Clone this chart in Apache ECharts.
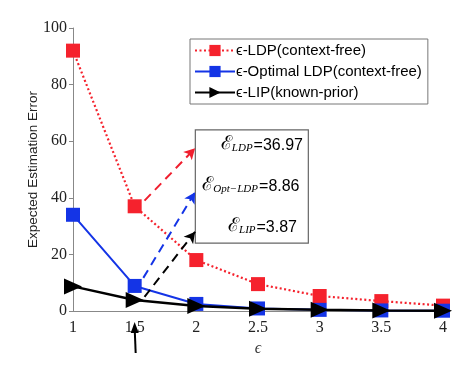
<!DOCTYPE html>
<html><head><meta charset="utf-8">
<script src="https://cdn.jsdelivr.net/npm/echarts@6/dist/echarts.min.js"></script>
<style>html,body{margin:0;padding:0;background:#fff}#c{width:474px;height:368px}</style>
</head><body><div id="c"></div>
<script>
const epsilons = [1, 1.5, 2, 2.5, 3, 3.5, 4];
const ldp = [92, 37, 18, 9.5, 5.3, 3.5, 1.9];
const optLdp = [34, 8.86, 2.5, 0.9, 0.4, 0.2, 0.1];
const lip = [8.7, 3.87, 1.8, 0.8, 0.4, 0.2, 0.1];
const seriesNames = ['ϵ-LDP(context-free)', 'ϵ-Optimal LDP(context-free)', 'ϵ-LIP(known-prior)'];
const yTicks = [0, 20, 40, 60, 80, 100];
// dashed callout arrows: [startX, startY, endX, endY]
const arrowLdp = [1.58, 39, 1.99, 57.5];
const arrowOpt = [1.57, 11.7, 1.99, 42];
const arrowLip = [1.58, 5, 1.99, 28];
const boxLabels = [['LDP', '36.97'], ['Opt−LDP', '8.86'], ['LIP', '3.87']];

const chart = echarts.init(document.getElementById('c'));
function pairs(ys){ return epsilons.map((x,i)=>[x, ys[i]]); }
function arrowML(a, color){
  return {
    silent: true, symbol: ['none', 'arrow'], symbolSize: [9, 11],
    label: {show: false},
    lineStyle: {type: [9, 6], width: 2, color: color},
    data: [[{coord: [a[0], a[1]]}, {coord: [a[2], a[3]]}]]
  };
}
function boxText(i){
  return '{E|ℰ}{s|' + boxLabels[i][0] + '}{v|=' + boxLabels[i][1] + '}';
}
const rich = {
  E: {fontFamily: 'DejaVu Serif', fontSize: 19, color: '#000', lineHeight: 22, verticalAlign: 'bottom'},
  s: {fontFamily: 'Liberation Serif', fontStyle: 'italic', fontSize: 11, color: '#000', lineHeight: 22, verticalAlign: 'bottom', padding: [0, 1, 0, 0]},
  v: {fontFamily: 'Liberation Sans', fontSize: 16, color: '#000', lineHeight: 22, verticalAlign: 'bottom'}
};
chart.setOption({
  animation: false,
  grid: {left: 73, right: 31, top: 28, bottom: 57},
  legend: {
    left: 190, top: 39, orient: 'vertical',
    data: seriesNames,
    itemWidth: 40, itemHeight: 14, itemGap: 6,
    borderColor: '#777', borderWidth: 1, borderRadius: 0,
    padding: [4, 6, 4, 4],
    backgroundColor: '#fff',
    textStyle: {fontFamily: 'Liberation Sans', fontSize: 15, color: '#000', padding: [0,0,0,-4]}
  },
  xAxis: {
    type: 'value', min: 1, max: 4, interval: 0.5,
    name: 'ϵ', nameLocation: 'middle', nameGap: 30,
    nameTextStyle: {fontFamily: 'Liberation Serif', fontStyle: 'italic', fontSize: 16, color: '#333'},
    axisLine: {lineStyle: {color: '#888'}},
    axisTick: {show: false},
    splitLine: {show: false},
    axisLabel: {fontFamily: 'Liberation Serif', fontSize: 16, color: '#222', margin: 9}
  },
  yAxis: {
    type: 'value', min: 0, max: 100, interval: 20,
    name: 'Expected Estimation Error', nameLocation: 'middle', nameGap: 33,
    nameMoveOverlap: false,
    nameTextStyle: {fontFamily: 'Liberation Sans', fontSize: 13.5, color: '#222'},
    axisLine: {show: true, lineStyle: {color: '#888'}},
    axisTick: {show: true, length: 4, lineStyle: {color: '#888'}},
    splitLine: {show: false},
    axisLabel: {fontFamily: 'Liberation Serif', fontSize: 16, color: '#222', margin: 6}
  },
  series: [
    {name: seriesNames[0], type: 'line', data: pairs(ldp), z: 3,
     symbol: 'rect', symbolSize: 14,
     itemStyle: {color: '#f5222d'},
     lineStyle: {type: [2, 2.5], width: 2.2, color: '#f5222d'},
     markLine: arrowML(arrowLdp, '#f01e2e')},
    {name: seriesNames[1], type: 'line', data: pairs(optLdp), z: 4,
     symbol: 'rect', symbolSize: 14,
     itemStyle: {color: '#1434e6'},
     lineStyle: {width: 2, color: '#1434e6'},
     markLine: arrowML(arrowOpt, '#1434e6')},
    {name: seriesNames[2], type: 'line', data: pairs(lip), z: 5,
     symbol: 'triangle', symbolRotate: -90, symbolSize: [16, 18],
     itemStyle: {color: '#000'},
     lineStyle: {width: 2.5, color: '#000'},
     markLine: arrowML(arrowLip, '#000')}
  ]
});

function drawExtras(){
  const x15 = chart.convertToPixel({xAxisIndex: 0}, 1.5);
  const bx = chart.convertToPixel({xAxisIndex: 0}, 2) - 1;
  const by0 = chart.convertToPixel({yAxisIndex: 0}, 64);
  const by1 = chart.convertToPixel({yAxisIndex: 0}, 24);
  chart.setOption({graphic: [
    {type: 'rect', shape: {x: bx, y: by0, width: 113, height: by1 - by0},
     style: {fill: 'rgba(255,255,255,0)', stroke: '#666', lineWidth: 1.2}, z: 1},
    {type: 'text', right: 474 - 303, top: by0 + 5, z: 10,
     style: {text: boxText(0), rich: rich, align: 'right'}},
    {type: 'text', left: bx + 7, top: by0 + 46, z: 10,
     style: {text: boxText(1), rich: rich}},
    {type: 'text', right: 474 - 297, top: by0 + 87, z: 10,
     style: {text: boxText(2), rich: rich, align: 'right'}},
    {type: 'line', shape: {x1: x15 + 1, y1: 353, x2: x15, y2: 328},
     style: {stroke: '#000', lineWidth: 2}, z: 10},
    {type: 'polygon', shape: {points: [[x15 - 4, 333], [x15, 322], [x15 + 4, 333]]},
     style: {fill: '#000'}, z: 10}
  ]});
}
drawExtras();
</script>
</body></html>
